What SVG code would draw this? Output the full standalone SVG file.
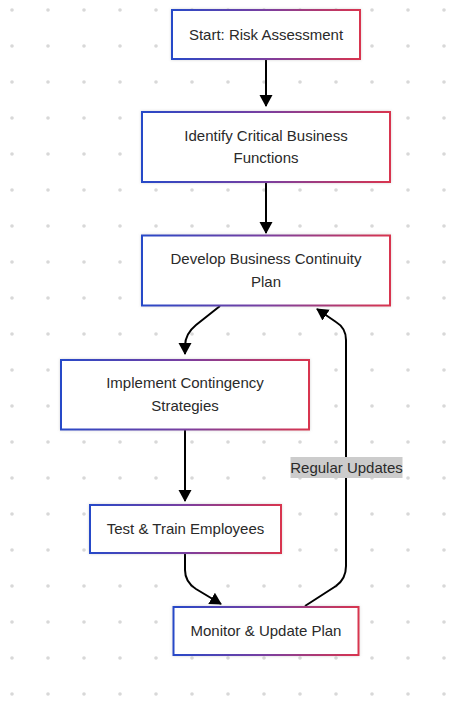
<svg xmlns="http://www.w3.org/2000/svg" width="474" height="703" viewBox="0 0 474 703">
<defs>
<pattern id="dots" x="0" y="0" width="36" height="36" patternUnits="userSpaceOnUse">
<circle cx="12" cy="10" r="1.8" fill="#d8d8d8"/>
</pattern>
<linearGradient id="bord" x1="0" y1="0" x2="1" y2="0">
<stop offset="0" stop-color="#2748c8"/>
<stop offset="0.5" stop-color="#7a3fa0"/>
<stop offset="1" stop-color="#d8344f"/>
</linearGradient>
<filter id="sh" x="-10%" y="-20%" width="120%" height="140%">
<feDropShadow dx="0" dy="0" stdDeviation="1.5" flood-color="#888" flood-opacity="0.35"/>
</filter>
<marker id="arr" markerWidth="14" markerHeight="14" refX="11" refY="7" orient="auto" markerUnits="userSpaceOnUse">
<path d="M0,0.5 L12,7 L0,13.5 Z" fill="#000"/>
</marker>
<style>
.box{fill:#fff;stroke:url(#bord);stroke-width:2;filter:url(#sh)}
.t{font-family:"Liberation Sans",Arial,sans-serif;font-size:15px;fill:#2a2a2a;text-anchor:middle;dominant-baseline:central}
.edge{fill:none;stroke:#000;stroke-width:2;marker-end:url(#arr)}
</style>
</defs>
<rect width="474" height="703" fill="#fff"/>
<rect width="474" height="703" fill="url(#dots)"/>
<g id="connectors">
<path class="edge" d="M266,59 L266,106"/>
<path class="edge" d="M266,182 L266,233"/>
<path class="edge" d="M220,306 L196,325 Q185,334 185,346 L185,354"/>
<path class="edge" d="M185,430 L185,501"/>
<path class="edge" d="M185,553 L185,570 Q185,582 196,589 L221,604"/>
<path class="edge" d="M305,606 L336,586 Q346,579 346,566 L346,340 Q346,328 336,322 L317,309"/>
<g id="label-regular">
<rect x="290.5" y="457" width="112" height="21" fill="#cccccc"/>
<text class="t" x="346.5" y="467.5">Regular Updates</text>
</g>
</g>
<g id="n1">
<rect class="box" x="172" y="10" width="188" height="49"/>
<text class="t" x="266" y="34">Start: Risk Assessment</text>
</g>
<g id="n2">
<rect class="box" x="142" y="112" width="248" height="70"/>
<text class="t" x="266" y="135">Identify Critical Business</text>
<text class="t" x="266" y="157">Functions</text>
</g>
<g id="n3">
<rect class="box" x="142" y="235.5" width="248" height="70"/>
<text class="t" x="266" y="258.5">Develop Business Continuity</text>
<text class="t" x="266" y="281.5">Plan</text>
</g>
<g id="n4">
<rect class="box" x="61" y="360" width="248" height="69.5"/>
<text class="t" x="185" y="382.5">Implement Contingency</text>
<text class="t" x="185" y="405.5">Strategies</text>
</g>
<g id="n5">
<rect class="box" x="90" y="505" width="191" height="48"/>
<text class="t" x="185.5" y="528.5">Test &amp; Train Employees</text>
</g>
<g id="n6">
<rect class="box" x="173.5" y="607" width="185" height="48"/>
<text class="t" x="266" y="630.5">Monitor &amp; Update Plan</text>
</g>
</svg>
